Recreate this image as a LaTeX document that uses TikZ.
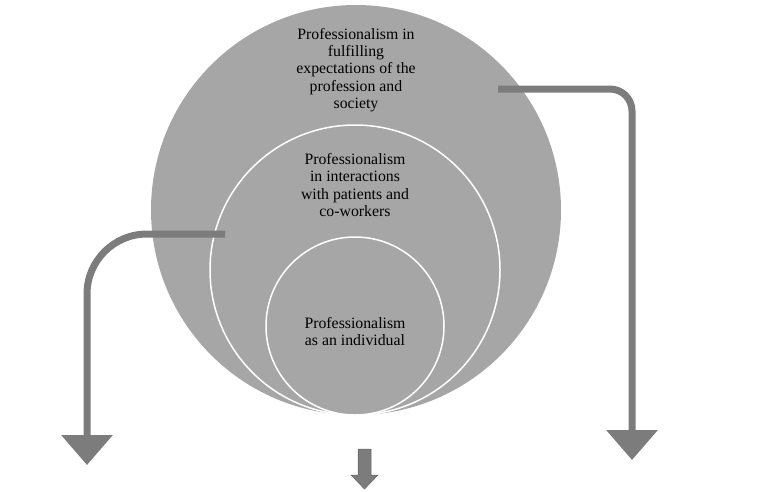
\documentclass[tikz,border=0pt]{standalone}
\usepackage{fontspec}
\setmainfont{Liberation Serif}
\usetikzlibrary{arrows.meta,positioning}

\tikzset{
	ring/.style={circle, inner sep=0pt, fill=ringgray},
	inner ring/.style={ring, draw=white, line width=1.5pt},
	ring text/.style={inner sep=0pt, align=center, font=\fontsize{15.8}{17.3}\selectfont},
	bent arrow/.style={draw=arrowgray, line width=7pt, rounded corners=#1,
		-{Triangle[width=50pt, length=30pt]}},
}
\definecolor{ringgray}{RGB}{166,166,166}
\definecolor{arrowgray}{RGB}{124,124,124}

\begin{document}
\begin{tikzpicture}[x=1pt, y=-1pt]
	\useasboundingbox (0, 0) rectangle (768, 491);
	% circles
	\node [ring, minimum size=410pt] (society) at (356, 210) {};
	\node [inner ring, minimum size=290pt] (interact) at (355, 270) {};
	\node [inner ring, minimum size=178pt] (individual) at (355, 326) {};
	% labels
	\node [ring text, below=23pt of society.north] (societytext) {Professionalism in\\fulfilling\\expectations of the\\profession and\\society};
	\node [ring text, below=29pt of interact.north] (interacttext) {Professionalism\\in interactions\\with patients and\\co-workers};
	\node [ring text, below=81pt of individual.north] (individualtext) {Professionalism\\as an individual};
	% arrows
	\coordinate (Start) at (498, 89);
	\coordinate (End) at (632, 460);
	\draw [bent arrow=22pt] (Start) -| (End);
	\coordinate (Start_2) at (225, 234);
	\coordinate (End_2) at (87, 465);
	\draw [bent arrow=60pt] (Start_2) -| (End_2);
	\draw [fill=arrowgray, draw=arrowgray!80!black, line width=0.5pt] (358, 449) -- (371, 449) -- (371, 475) -- (378, 475) -- (364.5, 489) -- (351, 475) -- (358, 475) -- cycle;
\end{tikzpicture}
\end{document}
